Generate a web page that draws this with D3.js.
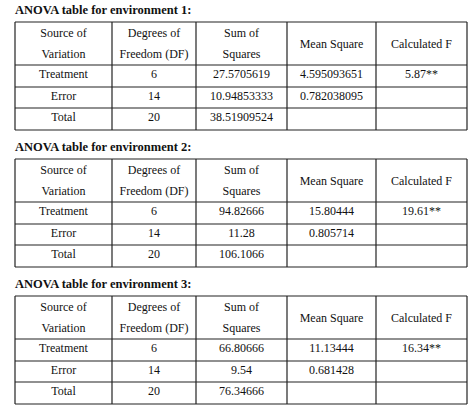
<!DOCTYPE html>
<html><head><meta charset="utf-8">
<script src="https://cdn.jsdelivr.net/npm/d3@7"></script>
<style>body{margin:0;background:#fff}text{font-family:"Liberation Serif","DejaVu Serif",serif;fill:#111}</style>
</head><body><svg id="c" width="474" height="409"></svg>
<script>
const headers = [["Source of", "Variation"], ["Degrees of", "Freedom (DF)"], ["Sum of", "Squares"], ["Mean Square"], ["Calculated F"]];
const sources = ["Treatment", "Error", "Total"];
const df = ["6", "14", "20"];
const titles = ["ANOVA table for environment 1:", "ANOVA table for environment 2:", "ANOVA table for environment 3:"];
const sumSq = [["27.5705619", "10.94853333", "38.51909524"], ["94.82666", "11.28", "106.1066"], ["66.80666", "9.54", "76.34666"]];
const meanSq = [["4.595093651", "0.782038095", ""], ["15.80444", "0.805714", ""], ["11.13444", "0.681428", ""]];
const calcF = [["5.87**", "", ""], ["19.61**", "", ""], ["16.34**", "", ""]];

const svg = d3.select("#c");
const colEdges = [15, 112, 196, 287, 376, 467];
const x = d3.scaleOrdinal().domain(d3.range(5)).range(colEdges.slice(0, 5));
const rowEdges = [0, 43, 65, 86, 108];

titles.forEach((t, k) => {
    const top = 22 + k * 137;
    const g = svg.append("g").attr("transform", `translate(0,${top})`);
    g.append("text").attr("x", 15).attr("y", -8).attr("font-weight", "bold").attr("font-size", 12.5).text(t);
    const rows = [headers].concat(sources.map((s, i) => [s, df[i], sumSq[k][i], meanSq[k][i], calcF[k][i]]));
    // grid
    rowEdges.forEach(y => g.append("line").attr("x1", 15).attr("x2", 467).attr("y1", y).attr("y2", y).attr("stroke", "#222").attr("stroke-width", 1.2));
    colEdges.forEach(xx => g.append("line").attr("x1", xx).attr("x2", xx).attr("y1", 0).attr("y2", 108).attr("stroke", "#222").attr("stroke-width", 1.2));
    rows.forEach((r, ri) => {
        const y0 = rowEdges[ri], y1 = rowEdges[ri + 1];
        r.forEach((cell, ci) => {
            const cx = (colEdges[ci] + colEdges[ci + 1]) / 2;
            const lines = Array.isArray(cell) ? cell : [cell];
            const lh = 21;
            const mid = (y0 + y1) / 2;
            lines.forEach((ln, li) => {
                const yy = ri === 0 ? mid + (li - (lines.length - 1) / 2) * lh + 4 : mid + 2;
                g.append("text").attr("x", cx).attr("y", yy).attr("text-anchor", "middle").attr("font-size", 12).text(ln);
            });
        });
    });
});
</script></body></html>
